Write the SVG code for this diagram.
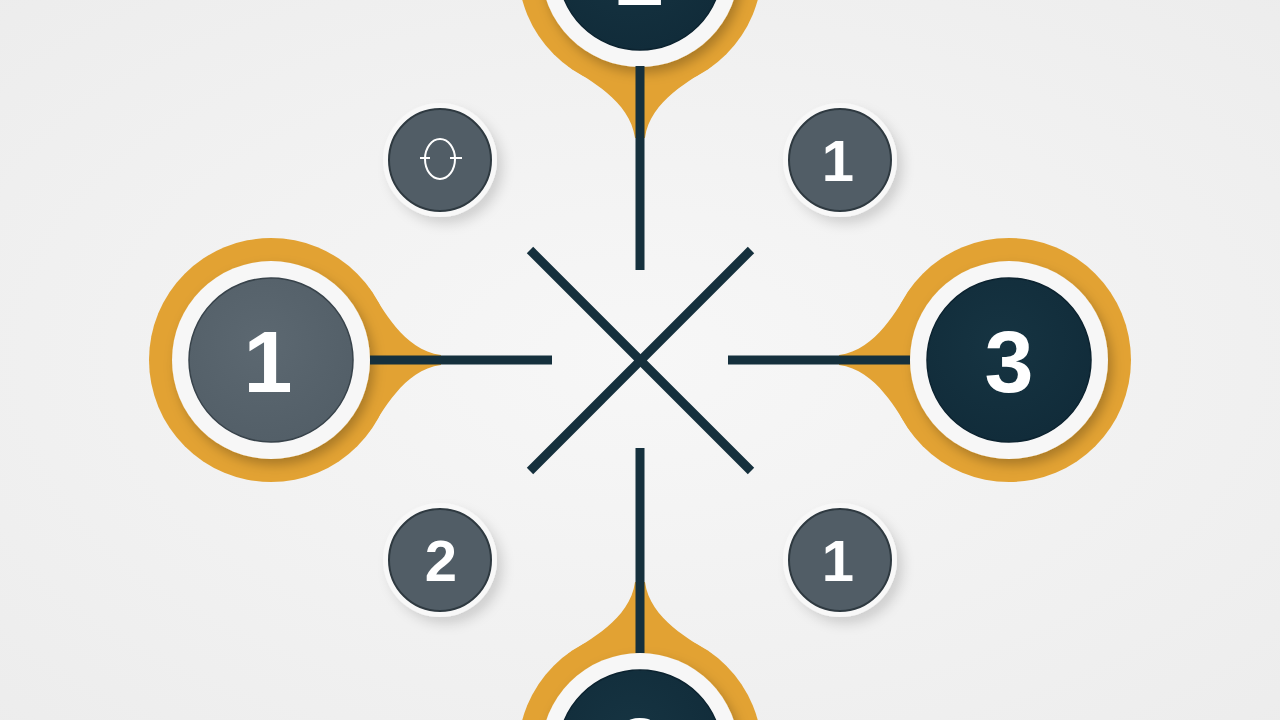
<svg xmlns="http://www.w3.org/2000/svg" width="1280" height="720" viewBox="0 0 1280 720">
  <defs>
    <radialGradient id="bg" cx="50%" cy="50%" r="75%">
      <stop offset="0" stop-color="#f7f7f7"/>
      <stop offset="1" stop-color="#ececec"/>
    </radialGradient>
    <radialGradient id="gGray" cx="45%" cy="40%" r="60%">
      <stop offset="0" stop-color="#5c6871"/>
      <stop offset="1" stop-color="#535f68"/>
    </radialGradient>
    <radialGradient id="gNavy" cx="45%" cy="40%" r="60%">
      <stop offset="0" stop-color="#163442"/>
      <stop offset="1" stop-color="#112c3a"/>
    </radialGradient>
    <filter id="sh" x="-30%" y="-30%" width="160%" height="160%">
      <feDropShadow dx="4" dy="6" stdDeviation="6" flood-color="#000" flood-opacity="0.25"/>
    </filter>
    <filter id="shs" x="-40%" y="-40%" width="180%" height="180%">
      <feDropShadow dx="6" dy="7" stdDeviation="6" flood-color="#000" flood-opacity="0.14"/>
    </filter>
    <path id="tail" d="M 98,-72 C 112,-52 132,-10 170,-5 L 170,5 C 132,10 112,52 98,72 Z"/>
  </defs>
  <style>
    .orange { fill: #e2a233; }
    .ring { fill: #f7f7f7; filter: url(#sh); }
    .gray { fill: url(#gGray); stroke: #38434b; stroke-width: 1.5; }
    .navy { fill: url(#gNavy); stroke: #0c2330; stroke-width: 1.5; }
    .big { font-family: "Liberation Sans", Arial, sans-serif; font-weight: bold; font-size: 88px; fill: #ffffff; text-anchor: middle; }
    .halo { fill: #f8f8f8; filter: url(#shs); }
    .small { fill: #515d66; stroke: #2e3940; stroke-width: 2; }
    .stxt { font-family: "Liberation Sans", Arial, sans-serif; font-weight: bold; font-size: 58px; fill: #ffffff; text-anchor: middle; }
    .line { stroke: #15303d; stroke-width: 9; stroke-linecap: butt; fill: none; }
  </style>
  <rect width="1280" height="720" fill="url(#bg)"/>

  <g id="node-left">
    <circle class="orange" cx="271" cy="360" r="122"/>
    <use href="#tail" class="orange" transform="translate(271,360)"/>
    <circle class="ring" cx="271" cy="360" r="99"/>
    <circle class="gray" cx="271" cy="360" r="82"/>
    <text class="big" x="268" y="392">1</text>
  </g>

  <g id="node-right">
    <circle class="orange" cx="1009" cy="360" r="122"/>
    <use href="#tail" class="orange" transform="translate(1009,360) rotate(180)"/>
    <circle class="ring" cx="1009" cy="360" r="99"/>
    <circle class="navy" cx="1009" cy="360" r="82"/>
    <text class="big" x="1009" y="392">3</text>
  </g>

  <g id="node-top">
    <circle class="orange" cx="640" cy="-32" r="122"/>
    <use href="#tail" class="orange" transform="translate(640,-32) rotate(90)"/>
    <circle class="ring" cx="640" cy="-32" r="99"/>
    <circle class="navy" cx="640" cy="-32" r="82"/>
    <text class="big" x="640" y="5">2</text>
  </g>

  <g id="node-bottom">
    <circle class="orange" cx="640" cy="752" r="122"/>
    <use href="#tail" class="orange" transform="translate(640,752) rotate(-90)"/>
    <circle class="ring" cx="640" cy="752" r="99"/>
    <circle class="navy" cx="640" cy="752" r="82"/>
    <text class="big" x="640" y="779">3</text>
  </g>

  <g id="connectors">
    <line class="line" x1="370" y1="360" x2="552" y2="360"/>
    <line class="line" x1="728" y1="360" x2="910" y2="360"/>
    <line class="line" x1="640" y1="66" x2="640" y2="270"/>
    <line class="line" x1="640" y1="448" x2="640" y2="653"/>
    <line class="line" x1="530" y1="250" x2="751" y2="471"/>
    <line class="line" x1="751" y1="250" x2="530" y2="471"/>
  </g>

  <g id="small-top-left">
    <circle class="halo" cx="440" cy="160" r="57"/>
    <circle class="small" cx="440" cy="160" r="51"/>
    <ellipse cx="440" cy="159" rx="15" ry="20" fill="none" stroke="#ffffff" stroke-width="2"/>
    <line x1="420" y1="158" x2="430" y2="158" stroke="#ffffff" stroke-width="2"/>
    <line x1="450" y1="158" x2="462" y2="158" stroke="#ffffff" stroke-width="2"/>
  </g>

  <g id="small-top-right">
    <circle class="halo" cx="840" cy="160" r="57"/>
    <circle class="small" cx="840" cy="160" r="51"/>
    <text class="stxt" x="838" y="181">1</text>
  </g>

  <g id="small-bottom-left">
    <circle class="halo" cx="440" cy="560" r="57"/>
    <circle class="small" cx="440" cy="560" r="51"/>
    <text class="stxt" x="441" y="581">2</text>
  </g>

  <g id="small-bottom-right">
    <circle class="halo" cx="840" cy="560" r="57"/>
    <circle class="small" cx="840" cy="560" r="51"/>
    <text class="stxt" x="838" y="581">1</text>
  </g>
</svg>
